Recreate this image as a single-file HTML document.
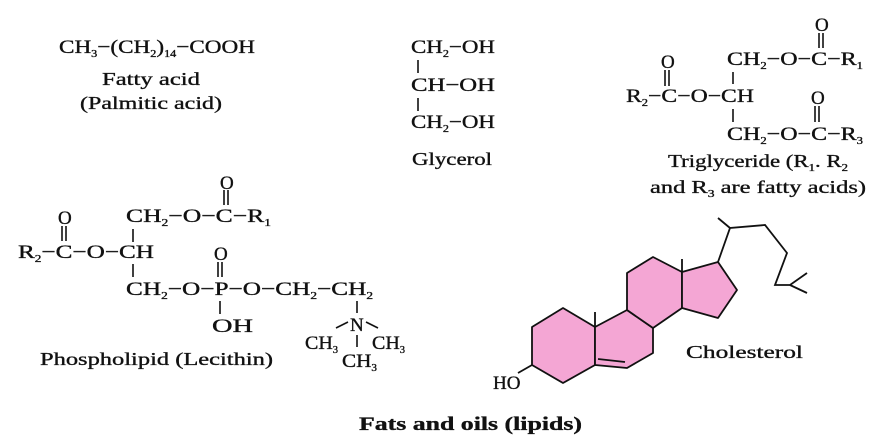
<!DOCTYPE html>
<html><head><meta charset="utf-8"><style>
html,body{margin:0;padding:0;background:#fff;}
svg{display:block;}
text{font-family:"Liberation Serif",serif;fill:#111;stroke:#111;stroke-width:0.35;}
.c{font-size:19px;}
.l{font-size:18px;}
.s{font-size:10px;}
</style></head><body>
<svg width="884" height="444" viewBox="0 0 884 444" xmlns="http://www.w3.org/2000/svg">
<g stroke="#111" stroke-width="1.6" fill="none">
<line x1="418" y1="60" x2="418" y2="73"/>
<line x1="418" y1="98" x2="418" y2="111"/>
<line x1="733" y1="72" x2="733" y2="84"/>
<line x1="733" y1="109" x2="733" y2="122"/>
<line x1="819" y1="33" x2="819" y2="48"/><line x1="823" y1="33" x2="823" y2="48"/>
<line x1="665" y1="70" x2="665" y2="86"/><line x1="669" y1="70" x2="669" y2="86"/>
<line x1="815" y1="106" x2="815" y2="122"/><line x1="819" y1="106" x2="819" y2="122"/>
<line x1="62" y1="226" x2="62" y2="241"/><line x1="66" y1="226" x2="66" y2="241"/>
<line x1="224" y1="190" x2="224" y2="205"/><line x1="228" y1="190" x2="228" y2="205"/>
<line x1="218" y1="262" x2="218" y2="277"/><line x1="222" y1="262" x2="222" y2="277"/>
<line x1="133" y1="229" x2="133" y2="242"/>
<line x1="133" y1="264" x2="133" y2="277"/>
<line x1="220" y1="301" x2="220" y2="314"/>
<line x1="357" y1="301" x2="357" y2="313"/>
<line x1="357" y1="335" x2="357" y2="347"/>
<line x1="348" y1="322" x2="336" y2="328"/>
<line x1="366" y1="322" x2="378" y2="328"/>
</g>
<g stroke="#111" stroke-width="1.8" fill="#f4a6d4" stroke-linejoin="round">
<polygon points="532,327 563,308 595,327 595,365 563,383 532,365"/>
<polygon points="595,327 627,310 653,328 653,353 627,368 595,365"/>
<polygon points="627,310 627,273 653,257 682,272 682,308 653,328"/>
<polygon points="682,272 718,262 737,290 718,318 682,308"/>
</g>
<g stroke="#111" stroke-width="1.8" fill="none">
<line x1="598" y1="359" x2="625" y2="362"/>
<line x1="595" y1="327" x2="595" y2="312"/>
<line x1="682" y1="272" x2="682" y2="259"/>
<polyline points="718,262 730,228 765,225 787,253 775,285 790,285 807,273"/>
<line x1="790" y1="285" x2="807" y2="293"/>
<line x1="730" y1="228" x2="718" y2="218"/>
<line x1="532" y1="365" x2="518" y2="373"/>
</g>
<text class="c" x="493" y="389">HO</text>
<text class="l" x="686" y="358" textLength="117" lengthAdjust="spacingAndGlyphs">Cholesterol</text>

<text class="c" x="59" y="53" textLength="196" lengthAdjust="spacingAndGlyphs">CH<tspan class="s" dy="4">3</tspan><tspan dy="-4">−(CH</tspan><tspan class="s" dy="4">2</tspan><tspan dy="-4">)</tspan><tspan class="s" dy="4">14</tspan><tspan dy="-4">−COOH</tspan></text>
<text class="l" x="102" y="85" textLength="98" lengthAdjust="spacingAndGlyphs">Fatty acid</text>
<text class="l" x="80" y="109" textLength="142" lengthAdjust="spacingAndGlyphs">(Palmitic acid)</text>

<text class="c" x="411" y="53" textLength="84" lengthAdjust="spacingAndGlyphs">CH<tspan class="s" dy="4">2</tspan><tspan dy="-4">−OH</tspan></text>
<text class="c" x="411" y="91" textLength="84" lengthAdjust="spacingAndGlyphs">CH−OH</text>
<text class="c" x="411" y="128" textLength="84" lengthAdjust="spacingAndGlyphs">CH<tspan class="s" dy="4">2</tspan><tspan dy="-4">−OH</tspan></text>
<text class="l" x="412" y="165" textLength="80" lengthAdjust="spacingAndGlyphs">Glycerol</text>

<text class="c" x="815" y="31">O</text>
<text class="c" x="727" y="65" textLength="136" lengthAdjust="spacingAndGlyphs">CH<tspan class="s" dy="4">2</tspan><tspan dy="-4">−O−C−R</tspan><tspan class="s" dy="4">1</tspan></text>
<text class="c" x="661" y="68">O</text>
<text class="c" x="626" y="102" textLength="128" lengthAdjust="spacingAndGlyphs">R<tspan class="s" dy="4">2</tspan><tspan dy="-4">−C−O−CH</tspan></text>
<text class="c" x="811" y="104">O</text>
<text class="c" x="727" y="140" textLength="136" lengthAdjust="spacingAndGlyphs">CH<tspan class="s" dy="4">2</tspan><tspan dy="-4">−O−C−R</tspan><tspan class="s" dy="4">3</tspan></text>
<text class="l" x="668" y="167" textLength="180" lengthAdjust="spacingAndGlyphs">Triglyceride (R<tspan class="s" dy="4">1</tspan><tspan dy="-4">. R</tspan><tspan class="s" dy="4">2</tspan></text>
<text class="l" x="650" y="193" textLength="216" lengthAdjust="spacingAndGlyphs">and R<tspan class="s" dy="4">3</tspan><tspan dy="-4"> are fatty acids)</tspan></text>

<text class="c" x="220" y="189">O</text>
<text class="c" x="126" y="222" textLength="145" lengthAdjust="spacingAndGlyphs">CH<tspan class="s" dy="4">2</tspan><tspan dy="-4">−O−C−R</tspan><tspan class="s" dy="4">1</tspan></text>
<text class="c" x="58" y="224">O</text>
<text class="c" x="18" y="258" textLength="136" lengthAdjust="spacingAndGlyphs">R<tspan class="s" dy="4">2</tspan><tspan dy="-4">−C−O−CH</tspan></text>
<text class="c" x="214" y="260">O</text>
<text class="c" x="126" y="295" textLength="247" lengthAdjust="spacingAndGlyphs">CH<tspan class="s" dy="4">2</tspan><tspan dy="-4">−O−P−O−CH</tspan><tspan class="s" dy="4">2</tspan><tspan dy="-4">−CH</tspan><tspan class="s" dy="4">2</tspan></text>
<text class="c" x="212" y="332" textLength="41" lengthAdjust="spacingAndGlyphs">OH</text>
<text class="c" x="350" y="331">N</text>
<text class="c" x="305" y="349" textLength="33" lengthAdjust="spacingAndGlyphs">CH<tspan class="s" dy="4">3</tspan></text>
<text class="c" x="372" y="349" textLength="33" lengthAdjust="spacingAndGlyphs">CH<tspan class="s" dy="4">3</tspan></text>
<text class="c" x="342" y="367" textLength="35" lengthAdjust="spacingAndGlyphs">CH<tspan class="s" dy="4">3</tspan></text>
<text class="l" x="40" y="365" textLength="233" lengthAdjust="spacingAndGlyphs">Phospholipid  (Lecithin)</text>

<text x="359" y="430" textLength="223" lengthAdjust="spacingAndGlyphs" style="font-size:19px;font-weight:bold;">Fats and oils (lipids)</text>
</svg>
</body></html>
